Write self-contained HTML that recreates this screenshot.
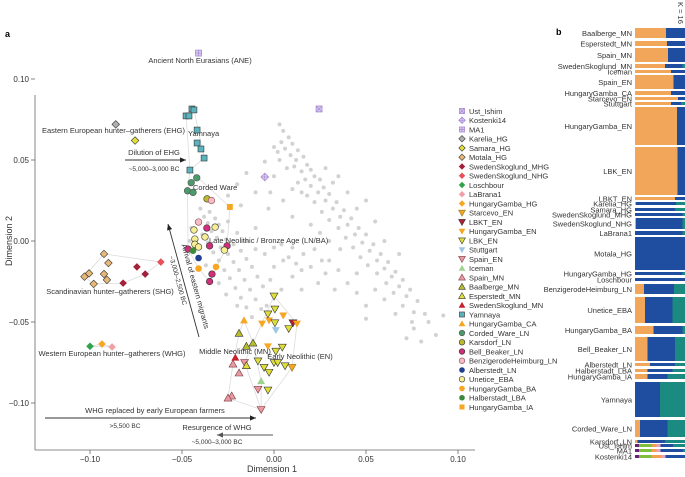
<!DOCTYPE html>
<html><head><meta charset="utf-8"><style>
body{margin:0;background:#fff}
svg{display:block;font-family:"Liberation Sans",sans-serif}
</style></head><body>
<svg id="fig" width="685" height="477" viewBox="0 0 685 477" xmlns="http://www.w3.org/2000/svg">
<g id="hulls"></g>
<g id="cloud"></g>
<g id="axes"></g>
<g id="annot"></g>
<g id="marks"></g>
<g id="legend"></g>
<g id="panelb"></g>
</svg>
<script>
// ---- axis ticks ----
const xTicks = [-0.10, -0.05, 0.00, 0.05, 0.10];
const xTickLabels = ["\u22120.10", "\u22120.05", "0.00", "0.05", "0.10"];
const yTicks = [0.10, 0.05, 0.00, -0.05, -0.10];
const yTickLabels = ["0.10", "0.05", "0.00", "\u22120.05", "\u22120.10"];

// ---- ancient sample coordinates (Dimension 1, Dimension 2) ----
const ustIshimPts = [[0.0245, 0.0815]];
const kostenkiPts = [[-0.005, 0.0395]];
const ma1Pts = [[-0.041, 0.116]];
const kareliaPts = [[-0.086, 0.072]];
const samaraPts = [[-0.0755, 0.062]];
const motalaPts = [[-0.0924,-0.008],[-0.090,-0.0136],[-0.103,-0.022],[-0.1005,-0.020],[-0.0924,-0.0204],[-0.0908,-0.024],[-0.098,-0.0265]];
const mhgPts = [[-0.0745,-0.016],[-0.070,-0.0204],[-0.082,-0.026]];
const nhgPts = [[-0.0615,-0.013]];
const loschbourPts = [[-0.100,-0.065]];
const labranaPts = [[-0.088,-0.0654]];
const hgHGPts = [[-0.0935,-0.0636]];
const starcevoPts = [[0.0098,-0.078]];
const lbktPts = [[0.0103,-0.0505]];
const hgENPts = [[0.005,-0.046],[-0.0065,-0.051],[-0.0027,-0.049],[-0.0033,-0.065],[0.0125,-0.051]];
const lbkPts = [[0.0,-0.034],[0.0005,-0.042],[-0.0033,-0.045],[0.0005,-0.0505],[0.008,-0.054],[0.001,-0.068],[0.0045,-0.0655],[0.0,-0.075],[0.002,-0.075],[0.006,-0.077],[-0.0054,-0.078],[-0.0027,-0.081],[-0.0033,-0.092],[-0.0087,-0.074]];
const stuttgartPts = [[0.001,-0.055]];
const spainENPts = [[-0.016,-0.075],[-0.0087,-0.0915],[-0.007,-0.104]];
const icemanPts = [[-0.007,-0.0865]];
const spainMNPts = [[-0.0223,-0.076],[-0.019,-0.0815],[-0.023,-0.0957],[-0.025,-0.097]];
const baalbergePts = [[-0.019,-0.057],[-0.0114,-0.063],[-0.015,-0.065]];
const esperstedtPts = [[-0.015,-0.077]];
const ssMNPts = [[-0.021,-0.072]];
const yamnayaPts = [[-0.0446,0.0815],[-0.0435,0.0809],[-0.0478,0.0772],[-0.0462,0.0772],[-0.0418,0.0685],[-0.0418,0.0605],[-0.0397,0.0568],[-0.038,0.0512],[-0.0457,0.0438]];
const hgCAPts = [[-0.0163,-0.049]];
const cordedPts = [[-0.042,0.039],[-0.045,0.036],[-0.047,0.031],[-0.044,0.030]];
const karsdorfPts = [[-0.0364,0.026]];
const bellBeakerPts = [[-0.0365,0.008],[-0.035,-0.003],[-0.0255,-0.003],[-0.0467,-0.005],[-0.0337,-0.0204],[-0.035,-0.025]];
const benzPts = [[-0.034,0.025],[-0.041,0.0117]];
const alberstedtPts = [[-0.041,-0.0105]];
const uneticePts = [[-0.032,0.0086],[-0.0435,0.0068],[-0.043,0.0012],[-0.0375,0.0025],[-0.043,-0.002],[-0.041,-0.0037],[-0.027,-0.0056]];
const hgBAPts = [[-0.041,-0.017],[-0.0315,-0.016]];
const halberstadtPts = [[-0.044,-0.006]];
const hgIAPts = [[-0.024,0.021]];

// ---- modern populations (grey background) ----
const cloudPts = [[0.005,0.068],[0.008,0.064],[0.004,0.061],[0.010,0.060],[0.006,0.057],[0.002,0.055],[0.009,0.053],[0.013,0.056],[0.012,0.050],[0.016,0.052],[0.003,0.050],[0.018,0.047],[0.011,0.046],[0.007,0.045],[0.020,0.044],[0.015,0.043],[-0.005,0.049],[0.022,0.040],[0.017,0.038],[0.025,0.038],[0.013,0.036],[0.020,0.034],[0.027,0.033],[0.010,0.032],[0.024,0.030],[0.030,0.029],[0.018,0.028],[0.028,0.025],[0.034,0.024],[0.022,0.024],[0.032,0.020],[0.038,0.019],[0.026,0.018],[0.036,0.015],[0.042,0.014],[0.030,0.013],[0.040,0.010],[0.046,0.008],[0.035,0.008],[0.044,0.004],[0.050,0.004],[0.039,0.002],[0.048,-0.001],[0.054,-0.002],[0.043,-0.004],[0.052,-0.006],[0.058,-0.008],[0.047,-0.010],[0.056,-0.012],[0.062,-0.013],[0.051,-0.015],[0.060,-0.017],[0.066,-0.019],[0.056,-0.020],[0.064,-0.022],[0.070,-0.024],[0.061,-0.026],[0.068,-0.028],[0.074,-0.030],[0.065,-0.032],[0.072,-0.034],[0.078,-0.037],[0.070,-0.040],[0.076,-0.044],[0.082,-0.045],
[0.015,0.030],[0.000,0.040],[-0.002,0.030],[0.005,0.025],[0.040,0.030],[0.045,0.020],[0.055,0.012],[0.025,0.005],[0.030,0.000],[0.020,0.010],[0.010,0.015],[0.060,0.000],[0.068,-0.008],[0.055,-0.030],[0.045,-0.020],[0.084,-0.050],[0.088,-0.058],[0.080,-0.062],[0.076,-0.054],[0.036,-0.005],[0.026,-0.012],[0.015,-0.018],[0.005,-0.012],[-0.003,0.020],[0.050,0.025],
[-0.040,0.020],[-0.035,0.018],[-0.038,0.015],[-0.032,0.014],[-0.036,0.011],[-0.030,0.010],[-0.042,0.012],[-0.034,0.006],[-0.028,0.006],[-0.039,0.004],[-0.031,0.002],[-0.026,0.001],[-0.036,-0.001],[-0.029,-0.004],[-0.022,-0.002],[-0.033,-0.007],[-0.025,-0.008],[-0.018,-0.006],[-0.030,-0.012],[-0.022,-0.013],[-0.015,-0.011],[-0.027,-0.018],[-0.019,-0.018],[-0.012,-0.016],[-0.024,-0.023],[-0.016,-0.024],[-0.009,-0.022],[-0.021,-0.029],[-0.013,-0.030],[-0.006,-0.028],[-0.018,-0.035],[-0.010,-0.036],[-0.015,-0.041],[-0.007,-0.042],[-0.012,-0.047],[-0.004,-0.040],[-0.020,-0.040],[-0.026,-0.033],[-0.030,-0.026],[-0.034,-0.020],[-0.037,-0.015],[-0.010,-0.005],[-0.005,-0.008],[0.000,-0.004],[-0.015,0.000],[-0.020,0.005],[-0.010,0.008],[-0.025,0.012],[-0.045,0.008],[-0.046,0.000],
[0.004,-0.002],[0.010,-0.004],[0.016,-0.008],[0.022,-0.005],[0.008,-0.010],[0.000,-0.016],[0.012,-0.014],[0.020,-0.016],[0.030,-0.012],[0.028,-0.020],[0.035,-0.018],[0.040,-0.026],[0.024,-0.026],[0.010,-0.022],[-0.002,-0.024],[0.004,-0.030],[0.015,-0.030],[0.033,-0.030],[0.045,-0.032],[0.050,-0.040],[0.060,-0.036],[0.066,-0.045],[0.075,-0.050],[0.092,-0.046],[0.072,-0.060],[0.050,-0.048],
[-0.020,0.035],[-0.015,0.042],[-0.010,0.030],[-0.025,0.028],[-0.018,0.022],[0.000,0.058],[0.003,0.072],[0.028,0.045],[0.035,0.040],[0.032,0.036]];

// ---- admixture panel data (orange, blue, teal fractions) ----
const admixGroups = ["Baalberge_MN","Esperstedt_MN","Spain_MN","SwedenSkoglund_MN","Iceman","Spain_EN","HungaryGamba_CA","Starcevo_EN","Stuttgart","HungaryGamba_EN","LBK_EN","LBKT_EN","Karelia_HG","Samara_HG","SwedenSkoglund_MHG","SwedenSkoglund_NHG","LaBrana1","Motala_HG","HungaryGamba_HG","Loschbour","BenzigerodeHeimburg_LN","Unetice_EBA","HungaryGamba_BA","Bell_Beaker_LN","Alberstedt_LN","Halberstadt_LBA","HungaryGamba_IA","Yamnaya","Corded_Ware_LN","Karsdorf_LN","Ust_Ishim","MA1","Kostenki14"];
const admixOrange = [0.62,0.64,0.66,0.60,0.72,0.77,0.72,0.86,0.72,0.84,0.85,0.80,0.02,0.00,0.00,0.02,0.00,0.00,0.00,0.00,0.18,0.20,0.37,0.25,0.30,0.25,0.25,0.00,0.10,0.05,0.10,0.10,0.20];
const admixBlue = [0.38,0.36,0.34,0.35,0.28,0.23,0.28,0.14,0.20,0.16,0.15,0.20,0.80,0.80,0.95,0.93,0.95,1.00,0.95,1.00,0.60,0.55,0.58,0.55,0.50,0.50,0.40,0.50,0.55,0.55,0.25,0.45,0.50];
const admixRowStart = [28,41,48,64,70,75,91,97,102,107,147,197,202,208,213,218,231,237,272,278,284,297,326,337,363,369,374,382,420,440,444,449,455];
const admixRowEnd = [38,46,62,68,73,89,95,100,105,145,195,200,205,211,216,229,235,270,275,281,294,323,334,361,366,372,379,417,437,443,447,452,458];

// ---- scales ----
const X0 = 274, XS = 1840, Y0 = 241, YS = 1620;
const sx = v => X0 + v * XS;
const sy = v => Y0 - v * YS;
const NS = "http://www.w3.org/2000/svg";
function mk(tag, attrs, parent, text){
  const e = document.createElementNS(NS, tag);
  for (const k in attrs) e.setAttribute(k, attrs[k]);
  if (text !== undefined) e.textContent = text;
  parent.appendChild(e); return e;
}
const C = {
  purple:"#a58ad2", grey:"#9a9a9a", yellow:"#e0df3a", tan:"#e8b877", darkred:"#a3203a", red:"#e8505a",
  green:"#2fa34a", pink:"#f2a0a8", orange:"#f6a623", lblue:"#9cc7e4", pinkd:"#e89aa0", lgreen:"#9fd28e",
  olive:"#b6bd2a", teal:"#5bb4bd", cgreen:"#4a9a6a", kolive:"#bfb92c", mag:"#d0307a", bpink:"#f4bcc4",
  navy:"#1f3f8f", lyellow:"#f7ee94", hgreen:"#3a8a3a"
};
const OUT = "#333";
// style per group: shape, fill, stroke
const groups = [
  ["Ust_Ishim", ustIshimPts, "sqx", "#d8c8f0", C.purple],
  ["Kostenki14", kostenkiPts, "dplus", "#e4d8f6", C.purple],
  ["MA1", ma1Pts, "sqplus", "#d8c8f0", C.purple],
  ["Karelia_HG", kareliaPts, "dia", "#b0b0b0", OUT],
  ["Samara_HG", samaraPts, "dia", C.yellow, OUT],
  ["Motala_HG", motalaPts, "dia", C.tan, OUT],
  ["SwedenSkoglund_MHG", mhgPts, "dia", C.darkred, "none"],
  ["SwedenSkoglund_NHG", nhgPts, "dia", C.red, "none"],
  ["Loschbour", loschbourPts, "dia", C.green, "none"],
  ["LaBrana1", labranaPts, "dia", C.pink, "none"],
  ["HungaryGamba_HG", hgHGPts, "dia", C.orange, "none"],
  ["Starcevo_EN", starcevoPts, "tdown", C.orange, "#8a7a20"],
  ["LBKT_EN", lbktPts, "tdown", "#b02030", OUT],
  ["HungaryGamba_EN", hgENPts, "tdown", C.orange, "none"],
  ["LBK_EN", lbkPts, "tdown", C.yellow, OUT],
  ["Stuttgart", stuttgartPts, "tdown", C.lblue, "none"],
  ["Spain_EN", spainENPts, "tdown", C.pinkd, "#7a3a40"],
  ["Iceman", icemanPts, "tup", C.lgreen, "none"],
  ["Spain_MN", spainMNPts, "tup", C.pinkd, "#7a3a40"],
  ["Baalberge_MN", baalbergePts, "tup", C.olive, OUT],
  ["Esperstedt_MN", esperstedtPts, "tup", C.yellow, OUT],
  ["SwedenSkoglund_MN", ssMNPts, "tup", "#c8202a", "none"],
  ["Yamnaya", yamnayaPts, "sq", C.teal, OUT],
  ["HungaryGamba_CA", hgCAPts, "tup", C.orange, "none"],
  ["Corded_Ware_LN", cordedPts, "circ", C.cgreen, "#555"],
  ["Karsdorf_LN", karsdorfPts, "circ", C.kolive, OUT],
  ["Bell_Beaker_LN", bellBeakerPts, "circ", C.mag, OUT],
  ["BenzigerodeHeimburg_LN", benzPts, "circ", C.bpink, "#8a4a50"],
  ["Alberstedt_LN", alberstedtPts, "circ", C.navy, "none"],
  ["Unetice_EBA", uneticePts, "circ", C.lyellow, OUT],
  ["HungaryGamba_BA", hgBAPts, "circ", C.orange, "none"],
  ["Halberstadt_LBA", halberstadtPts, "circ", C.hgreen, "none"],
  ["HungaryGamba_IA", hgIAPts, "sq", C.orange, "none"]
];
function marker(parent, shape, x, y, fill, stroke, r){
  r = r || 3.3;
  const sw = stroke === "none" ? 0 : 0.6;
  let e;
  if (shape === "circ") e = mk("circle", {cx:x, cy:y, r:r, fill:fill, stroke:stroke, "stroke-width":sw}, parent);
  else if (shape === "sq" || shape === "sqx" || shape === "sqplus") {
    e = mk("rect", {x:x-r*0.9, y:y-r*0.9, width:r*1.8, height:r*1.8, fill:fill, stroke:stroke, "stroke-width":shape==="sq"?sw:0.8}, parent);
    if (shape === "sqx") mk("path", {d:`M${x-r*0.9} ${y-r*0.9}L${x+r*0.9} ${y+r*0.9}M${x+r*0.9} ${y-r*0.9}L${x-r*0.9} ${y+r*0.9}`, stroke:stroke, "stroke-width":0.7}, parent);
    if (shape === "sqplus") mk("path", {d:`M${x} ${y-r*0.9}V${y+r*0.9}M${x-r*0.9} ${y}H${x+r*0.9}`, stroke:stroke, "stroke-width":0.7}, parent);
  }
  else if (shape === "dia" || shape === "dplus") {
    e = mk("polygon", {points:`${x},${y-r*1.15} ${x+r*1.15},${y} ${x},${y+r*1.15} ${x-r*1.15},${y}`, fill:fill, stroke:stroke, "stroke-width":shape==="dplus"?0.8:sw}, parent);
    if (shape === "dplus") mk("path", {d:`M${x} ${y-r*1.15}V${y+r*1.15}M${x-r*1.15} ${y}H${x+r*1.15}`, stroke:stroke, "stroke-width":0.7}, parent);
  }
  else if (shape === "tup") e = mk("polygon", {points:`${x},${y-r*1.2} ${x+r*1.2},${y+r*0.9} ${x-r*1.2},${y+r*0.9}`, fill:fill, stroke:stroke, "stroke-width":sw}, parent);
  else if (shape === "tdown") e = mk("polygon", {points:`${x},${y+r*1.2} ${x+r*1.2},${y-r*0.9} ${x-r*1.2},${y-r*0.9}`, fill:fill, stroke:stroke, "stroke-width":sw}, parent);
  return e;
}

// ---- cloud ----
const cloudG = document.getElementById("cloud");
cloudPts.forEach(p => {
  const c = mk("circle", {cx:sx(p[0]), cy:sy(p[1]), r:2, fill:"#d2d2d2"}, cloudG);
  
  
});

// ---- hulls ----
function hull(pts){
  const p = pts.map(q => [sx(q[0]), sy(q[1])]).sort((a,b)=>a[0]-b[0]||a[1]-b[1]);
  if (p.length < 3) return p;
  const cr = (o,a,b)=>(a[0]-o[0])*(b[1]-o[1])-(a[1]-o[1])*(b[0]-o[0]);
  const lo=[], up=[];
  for (const q of p){ while(lo.length>=2&&cr(lo[lo.length-2],lo[lo.length-1],q)<=0) lo.pop(); lo.push(q); }
  for (let i=p.length-1;i>=0;i--){ const q=p[i]; while(up.length>=2&&cr(up[up.length-2],up[up.length-1],q)<=0) up.pop(); up.push(q); }
  up.pop(); lo.pop(); return lo.concat(up);
}
const hullG = document.getElementById("hulls");
const hullSets = [
  ["shg-hull", motalaPts.concat(mhgPts, nhgPts)],
  ["whg-hull", loschbourPts.concat(hgHGPts, labranaPts)],
  ["yamnaya-hull", yamnayaPts],
  ["lnba-hull", cordedPts.concat(karsdorfPts, bellBeakerPts, benzPts, alberstedtPts, uneticePts, hgBAPts, halberstadtPts, hgIAPts, [yamnayaPts[8]])],
  ["en-hull", lbkPts.concat(hgENPts, lbktPts, starcevoPts, stuttgartPts, spainENPts)],
  ["mn-hull", spainMNPts.concat(baalbergePts, esperstedtPts, ssMNPts, hgCAPts, icemanPts, [spainENPts[2]])]
];
hullSets.forEach(h => {
  const pts = hull(h[1]);
  const e = mk("polygon", {points: pts.map(q=>q.join(",")).join(" "), fill:"none", stroke:"#dcdcdc", "stroke-width":0.8}, hullG);
  
  
});

// ---- axes ----
const axG = document.getElementById("axes");
mk("line", {x1:35, y1:95, x2:35, y2:450, stroke:"#666", "stroke-width":0.8}, axG);
mk("line", {x1:35, y1:450, x2:475, y2:450, stroke:"#666", "stroke-width":0.8}, axG);
xTicks.forEach((t,i) => {
  if (sx(t) < 35) return;
  mk("line", {x1:sx(t), y1:450, x2:sx(t), y2:454, stroke:"#666", "stroke-width":0.8}, axG);
  const l = mk("text", {x:sx(t), y:462, "font-size":8, "text-anchor":"middle", fill:"#333"}, axG, xTickLabels[i]);
  
  
});
yTicks.forEach((t,i) => {
  mk("line", {x1:31, y1:sy(t), x2:35, y2:sy(t), stroke:"#666", "stroke-width":0.8}, axG);
  const l = mk("text", {x:29, y:sy(t)+3, "font-size":8, "text-anchor":"end", fill:"#333"}, axG, yTickLabels[i]);
  
  
});
</script>
<script>
// ---- static annotations ----
const an = document.getElementById("annot");
function T(x,y,s,anchor,size,name,extra){
  const e = mk("text", Object.assign({x:x, y:y, "font-size":size||8, "text-anchor":anchor||"start", fill:"#333"}, extra||{}), an, s);
  
  
  return e;
}
T(5,37,"a","start",9,"panel-a-label",{"font-weight":"bold",fill:"#000"});
T(272,472,"Dimension 1","middle",9,"x-axis-title");
T(12,241,"Dimension 2","middle",9,"y-axis-title",{transform:"rotate(-90 12 241)"});
T(200,63,"Ancient North Eurasians (ANE)","middle",7.5,"ane-label");
T(185,133,"Eastern European hunter\u2013gatherers (EHG)","end",7.5,"ehg-label");
T(188,136,"Yamnaya","start",7.5,"yamnaya-label");
T(154,155,"Dilution of EHG","middle",7.5,"dilution-label");
T(154,171,"~5,000\u20133,000 BC","middle",6.5,"dilution-date");
T(193,190,"Corded Ware","start",7.5,"corded-ware-label");
T(209,243,"Late Neolithic / Bronze Age (LN/BA)","start",7.5,"lnba-label");
T(110,294,"Scandinavian hunter\u2013gatherers (SHG)","middle",7.5,"shg-label");
T(112,356,"Western European hunter\u2013gatherers (WHG)","middle",7.5,"whg-label");
T(235,354,"Middle Neolithic (MN)","middle",7.5,"mn-label");
T(300,359,"Early Neolithic (EN)","middle",7.5,"en-label");
T(155,413,"WHG replaced by early European farmers","middle",7.5,"whg-replaced-label");
T(125,428,">5,500 BC","middle",6.5,"whg-replaced-date");
T(217,430,"Resurgence of WHG","middle",7.5,"resurgence-label");
T(217,444,"~5,000\u20133,000 BC","middle",6.5,"resurgence-date");
T(193,287,"Arrival of eastern migrants","middle",7.5,"arrival-label",{transform:"rotate(74.7 193 287)"});
T(176,281,"~3,000\u20132,500 BC","middle",6.5,"arrival-date",{transform:"rotate(74.7 176 281)"});
function arrow(x1,y1,x2,y2,name,col){
  const g = mk("g", {}, an);
  
  
  mk("line", {x1:x1,y1:y1,x2:x2,y2:y2,stroke:col||"#333","stroke-width":0.9}, g);
  const a = Math.atan2(y2-y1,x2-x1), L=6, W=2.6;
  const bx = x2 - L*Math.cos(a), by = y2 - L*Math.sin(a);
  mk("polygon", {points:`${x2},${y2} ${bx - W*Math.sin(a)},${by + W*Math.cos(a)} ${bx + W*Math.sin(a)},${by - W*Math.cos(a)}`, fill:col||"#222"}, g);
}
arrow(125,160,186,160,"dilution-arrow");
arrow(199,337,168,224,"arrival-arrow");
arrow(45,418,256,418,"whg-replaced-arrow");
arrow(273,435,217,435,"resurgence-arrow","#555");

// ---- marks ----
const mG = document.getElementById("marks");
groups.forEach(g => {
  g[1].forEach(p => {
    const e = marker(mG, g[2], sx(p[0]), sy(p[1]), g[3], g[4]);
    
    
  });
});

// ---- legend ----
const lg = document.getElementById("legend");
groups.forEach((g,i) => {
  const y = 111 + i*9.25;
  const e = marker(lg, g[2], 462, y, g[3], g[4], 2.8);
  
  
  const t = mk("text", {x:469, y:y+2.8, "font-size":7.5, fill:"#333"}, lg, g[0]);
  
  
});

// ---- panel b ----
const pb = document.getElementById("panelb");
T(556,35,"b","start",9,"panel-b-label",{"font-weight":"bold",fill:"#000"});
const kl = mk("text", {x:678, y:2, "font-size":7.5, fill:"#333", transform:"rotate(90 678 2)"}, pb, "K = 16");


const BX = 635, BW = 50;
const multiColors = ["#6a1f7a","#7fbf3a","#f0a050","#e0d040","#e8a0c0","#1f4ea0","#1b8a80"];
admixGroups.forEach((name,i) => {
  const y0 = admixRowStart[i], h = admixRowEnd[i] - admixRowStart[i];
  const o = admixOrange[i], b = admixBlue[i], t = Math.max(0, 1 - o - b);
  const g = mk("g", {}, pb);
  
  
  if (i >= 30) {
    // multi-component ancient genomes
    mk("rect", {x:BX, y:y0, width:BW*0.08, height:h, fill:multiColors[0]}, g);
    mk("rect", {x:BX+BW*0.08, y:y0, width:BW*0.25, height:h, fill:multiColors[1]}, g);
    mk("rect", {x:BX+BW*0.33, y:y0, width:BW*o, height:h, fill:multiColors[2]}, g);
    mk("rect", {x:BX+BW*(0.33+o), y:y0, width:BW*0.08, height:h, fill:multiColors[4]}, g);
    mk("rect", {x:BX+BW*(0.41+o), y:y0, width:BW*b, height:h, fill:multiColors[5]}, g);
    const rem = BW*(0.59 - o - b);
    if (rem > 0) mk("rect", {x:BX+BW*(0.41+o+b), y:y0, width:rem, height:h, fill:multiColors[6]}, g);
  } else {
    mk("rect", {x:BX, y:y0, width:BW*o, height:h, fill:"#f2a65a"}, g);
    mk("rect", {x:BX+BW*o, y:y0, width:BW*b, height:h, fill:"#1f4ea0"}, g);
    mk("rect", {x:BX+BW*(o+b), y:y0, width:BW*t, height:h, fill:"#1b8a80"}, g);
  }
  const lab = mk("text", {x:632, y:(y0+admixRowEnd[i])/2+2.8, "font-size":7.5, "text-anchor":"end", fill:"#333"}, pb, name);
  
  
});
</script>
</body></html>
